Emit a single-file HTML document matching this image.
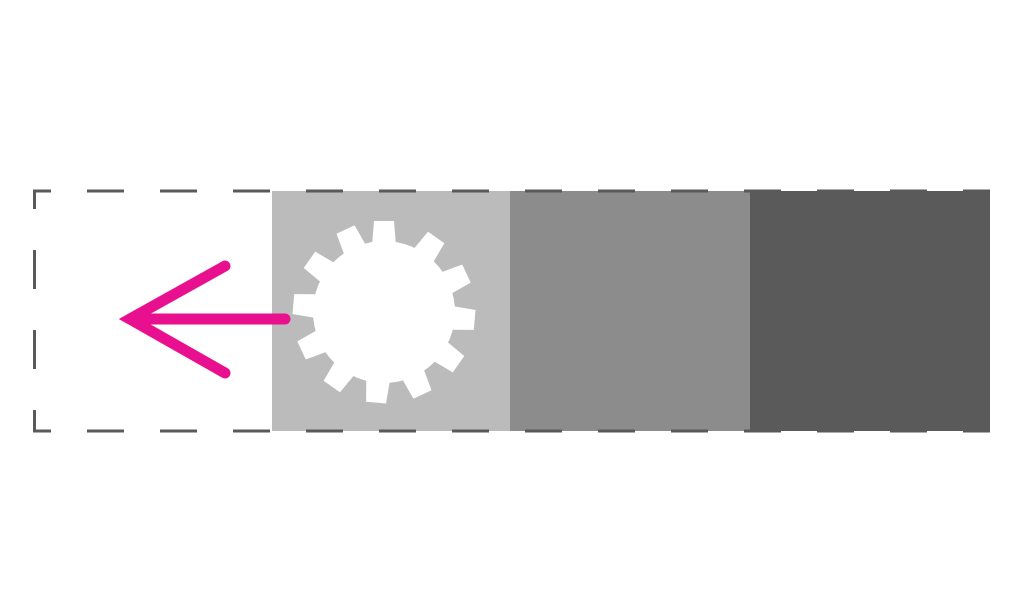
<!DOCTYPE html>
<html><head><meta charset="utf-8"><style>html,body{margin:0;padding:0;background:#fff}</style></head>
<body>
<svg width="1024" height="589" viewBox="0 0 1024 589" xmlns="http://www.w3.org/2000/svg">
<rect x="272" y="191" width="238" height="240" fill="#bbbbbb"/>
<rect x="510" y="191" width="240" height="240" fill="#8c8c8c"/>
<rect x="750" y="191" width="240" height="240" fill="#5a5a5a"/>
<g stroke="#5a5a5a" stroke-width="3" fill="none">
<line x1="33" y1="191" x2="990" y2="191" stroke-dasharray="37 36" stroke-dashoffset="19"/>
<line x1="33" y1="431" x2="990" y2="431" stroke-dasharray="37 36" stroke-dashoffset="19"/>
<line x1="34.5" y1="191" x2="34.5" y2="431" stroke-dasharray="39 41" stroke-dashoffset="21"/>
<line x1="988.5" y1="191" x2="988.5" y2="431" stroke-dasharray="39 41" stroke-dashoffset="21"/>
</g>
<g transform="translate(384,312)" fill="#fff">
<circle r="71"/>
<g id="t"><polygon points="-12,-66 12,-66 10,-91 -10,-91"/></g>
<use href="#t" transform="rotate(35)"/>
<use href="#t" transform="rotate(65)"/>
<use href="#t" transform="rotate(95)"/>
<use href="#t" transform="rotate(125)"/>
<use href="#t" transform="rotate(155)"/>
<use href="#t" transform="rotate(185)"/>
<use href="#t" transform="rotate(215)"/>
<use href="#t" transform="rotate(245)"/>
<use href="#t" transform="rotate(275)"/>
<use href="#t" transform="rotate(305)"/>
<use href="#t" transform="rotate(335)"/>
</g>
<g stroke="#e8108f" stroke-width="11" stroke-linecap="round" stroke-linejoin="miter" fill="none">
<line x1="285" y1="319" x2="135" y2="319"/>
<polyline points="225,266 130,319 225,373"/>
</g>
</svg>
</body></html>
